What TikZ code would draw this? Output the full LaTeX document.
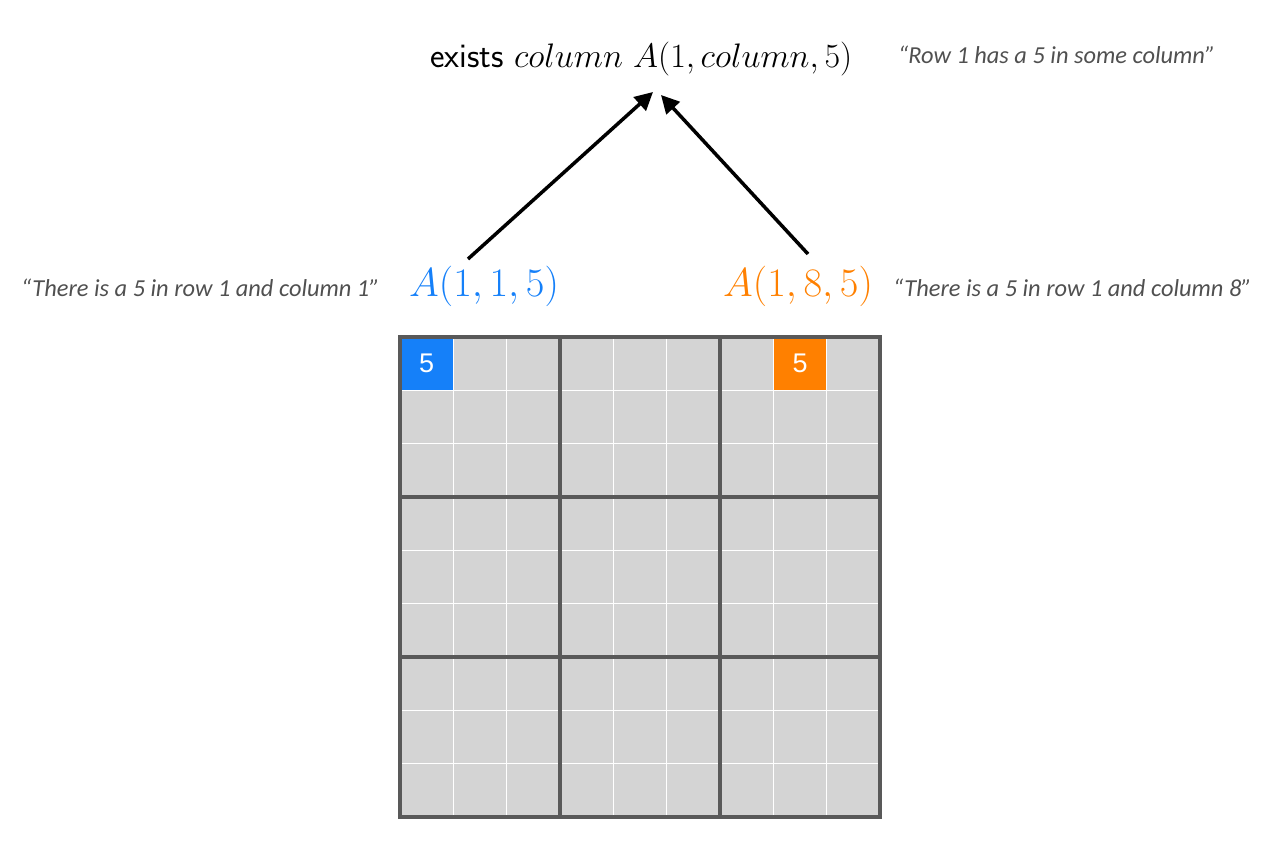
\RequirePackage{fix-cm}
\documentclass[tikz,border=0pt]{standalone}
\usepackage{fontspec}
\usetikzlibrary{arrows.meta}
\newfontfamily\quotefont{Carlito}
\newfontfamily\cellfont{Liberation Sans}
\definecolor{cellgray}{HTML}{D4D4D4}
\definecolor{linegray}{HTML}{595959}
\definecolor{myblue}{HTML}{1580F9}
\definecolor{myorange}{HTML}{FF8000}
\definecolor{quotegray}{HTML}{505050}
\tikzset{
  quote/.style={inner sep=0pt, anchor=base west, text=quotegray, font=\quotefont\itshape\fontsize{24.4}{28}\selectfont},
  biglabel/.style={inner sep=0pt, anchor=base west, font=\fontsize{40.5}{46}\selectfont},
  toplabel/.style={inner sep=0pt, anchor=base west, font=\fontsize{34}{40}\selectfont},
  arr/.style={line width=3.5pt, -{Triangle[length=18pt,width=18pt]}},
  celltext/.style={text=white, font=\cellfont\fontsize{27}{31}\selectfont},
  thin/.style={white, line width=1.3pt},
  thick/.style={linegray, line width=4pt}
}
\begin{document}
\begin{tikzpicture}[x=1pt,y=-1pt]
\useasboundingbox (0,0) rectangle (1280,860);
% texts
\node[toplabel] (top) at (430,67) {{\fontsize{34.5}{40}\selectfont\textsf{exists}} $column$ $A(1,column,5)$};
\node[quote] (topq) at (898,63) {“Row 1 has a 5 in some column”};
\node[biglabel,text=myblue] (bl) at (409,296) {$A(1,1,5)$};
\node[biglabel,text=myorange] (ol) at (723,296) {$A(1,8,5)$};
\node[quote] (lq) at (21,296) {“There is a 5 in row 1 and column 1”};
\node[quote] (rq) at (893,296) {“There is a 5 in row 1 and column 8”};
% arrows
\coordinate (s1) at (468,259);
\coordinate (t1) at (653,92);
\coordinate (s2) at (808,254);
\coordinate (t2) at (661,95);
\draw[arr] (s1) -- (t1);
\draw[arr] (s2) -- (t2);
% grid
\def\cw{53.3333}
\fill[cellgray] (400,337) rectangle (880,817);
\fill[myblue] (400,337) rectangle (400+\cw,337+\cw);
\fill[myorange] (400+7*\cw,337) rectangle (400+8*\cw,337+\cw);
\foreach \k in {1,2,4,5,7,8}{
  \draw[thin] (400+\k*\cw,337) -- (400+\k*\cw,817);
  \draw[thin] (400,337+\k*\cw) -- (880,337+\k*\cw);
}
\foreach \k in {3,6}{
  \draw[thick] (400+\k*\cw,337) -- (400+\k*\cw,817);
  \draw[thick] (400,337+\k*\cw) -- (880,337+\k*\cw);
}
\draw[thick] (400,337) rectangle (880,817);
\node[celltext] (c1) at (400+0.5*\cw,337+0.5*\cw) {5};
\node[celltext] (c8) at (400+7.5*\cw,337+0.5*\cw) {5};
\end{tikzpicture}
\end{document}
